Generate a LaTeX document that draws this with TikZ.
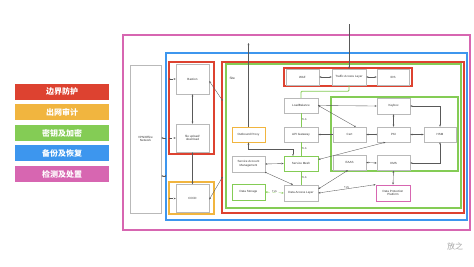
\documentclass[tikz,border=0pt]{standalone}
\usepackage{fontspec}
\setmainfont{Liberation Sans}
\newfontfamily\cjkfont{Noto Sans CJK SC}
\usetikzlibrary{arrows.meta}

\definecolor{bjred}{HTML}{DD4230}
\definecolor{bjorange}{HTML}{F1B53F}
\definecolor{bjgreen}{HTML}{84CC55}
\definecolor{bjblue}{HTML}{3D96EE}
\definecolor{bjpink}{HTML}{D766B1}

\tikzset{
	box/.style={draw=gray!55, line width=0.5pt, minimum width=33pt, minimum height=15pt,
		inner sep=0.5pt, align=center, font=\fontsize{3}{3.6}\selectfont, text=black!80},
	legend/.style={minimum width=94pt, minimum height=16pt, inner sep=0pt, text=white,
		font=\cjkfont\bfseries\fontsize{8}{9}\selectfont},
	frame/.style={line width=1.1pt},
	link/.style={draw=black!65, line width=0.35pt, -{Stealth[length=2.2pt,width=1.8pt]}},
	twoway/.style={link, {Stealth[length=2.2pt,width=1.8pt]}-{Stealth[length=2.2pt,width=1.8pt]}},
	dotlink/.style={link, {Circle[length=1.4pt]}-{Stealth[length=2.2pt,width=1.8pt]}},
	tlsline/.style={draw=bjgreen, line width=0.9pt},
	tlslabel/.style={font=\fontsize{2.6}{3}\selectfont, inner sep=0.3pt, text=black!80},
}

\begin{document}
\begin{tikzpicture}[x=1pt, y=-1pt]
	
	\useasboundingbox[fill=white] (0,0) rectangle (474,266);
	
	% 1. Legend
	\node[legend, fill=bjred]    (legborder) at (62,91.5) {边界防护};
	\node[legend, fill=bjorange] (legaudit)  at (62,112)  {出网审计};
	\node[legend, fill=bjgreen]  (legcrypto) at (62,133)  {密钥及加密};
	\node[legend, fill=bjblue]   (legbackup) at (62,153)  {备份及恢复};
	\node[legend, fill=bjpink]   (legdetect) at (62,174)  {检测及处置};
	
	% 2. Frames
	\draw[frame, bjpink]   (123,35) rectangle (470,230);
	\draw[frame, bjblue]   (166,53) rectangle (467,220);
	\draw[frame, bjred]    (169,62) rectangle (214,154);
	\draw[frame, bjorange] (169,182) rectangle (214,214);
	\draw[frame, bjred]    (222,62) rectangle (464,213);
	\draw[frame, bjgreen]  (226,64) rectangle (461,208);
	\draw[frame, bjred]    (284,68) rectangle (412,86);
	\draw[frame, bjgreen]  (331,97) rectangle (458,171);
	\node[tlslabel, anchor=west, font=\fontsize{3.2}{3.6}\selectfont] (sitelabel) at (229,78) {Site};
	
	% 3. Office side
	\node[box, minimum width=31pt, minimum height=148pt] (vpn) at (145.5,139) {VPN/Office\\Network};
	\node[box, minimum height=30pt] (bastion) at (192.5,79) {Bastion};
	\node[box, minimum height=28pt] (upload) at (192.5,138) {file upload/\\download};
	\node[box, minimum height=28pt] (cicd) at (192.5,198.5) {CI/CD};
	
	\coordinate (bastionport) at (169,79);
	\coordinate (siteport) at (222.5,100.5);
	\coordinate (blueport) at (166,176);
	\coordinate (cicdport) at (169,198.5);
	\coordinate (siteport2) at (222.5,177);
	
	\draw[dotlink, dashed] (bastionport) -- (bastion.west);
	\draw[dotlink] (siteport) -- ([yshift=-2pt]bastion.east);
	\draw[twoway] (bastion.south) -- (upload.north);
	\draw[twoway, dashed] (vpn.east |- upload.west) -- (upload.west);
	\draw[dotlink] (blueport) -- (vpn.east |- blueport);
	\draw[dotlink, dashed] (cicdport) -- (cicd.west);
	\draw[twoway] (upload.south) -- (cicd.north);
	\draw[dotlink] (siteport2) -- ([yshift=-1pt]cicd.east);
	
	% 4. Edge and service layer
	\node[box, minimum height=16pt] (waf) at (302.5,77) {WAF};
	\node[box, minimum width=34pt, minimum height=16pt] (tal) at (349,77) {Traffic Access Layer};
	\node[box, minimum width=32pt, minimum height=16pt] (ids) at (393,77) {IDS};
	\node[box, minimum width=34pt] (lb) at (301,105.5) {LoadBalance};
	\node[box, minimum width=34pt] (apigw) at (301,134.5) {API Gateway};
	\node[box, minimum width=34pt, draw=bjgreen, line width=0.8pt] (mesh) at (301,163.5) {Service Mesh};
	\node[box, minimum width=34pt, minimum height=16pt] (dal) at (301,193) {Data Access Layer};
	\node[box, draw=bjorange, line width=0.8pt] (outproxy) at (248.5,134.5) {Outbound Proxy};
	\node[box, minimum height=16pt] (sam) at (248.5,164) {Service Account\\Management};
	\node[box, minimum height=16pt, draw=bjgreen, line width=0.8pt] (storage) at (248.5,192) {Data Storage};
	
	\coordinate (inet) at (349,24);
	\coordinate (egress) at (248.5,43);
	
	\draw[twoway] (waf.east) -- (tal.west);
	\draw[twoway] (tal.east) -- (ids.west);
	\draw[link] (inet) -- (tal.north);
	\draw[link] (outproxy.north) -- (egress);
	\draw[tlsline, rounded corners=1pt] (tal.south) -- ++(0,6) -| (lb.north);
	\draw[tlsline] (lb.south) -- node[tlslabel, right] {TLS} (apigw.north);
	\draw[tlsline] (apigw.south) -- node[tlslabel, right] {TLS} (mesh.north);
	\draw[tlsline] (mesh.south) -- node[tlslabel, right] {TLS} (dal.north);
	\draw[dotlink] ([xshift=-8pt]mesh.north) -- ++(0,-6) -| (outproxy.south);
	\draw[twoway] (sam.east) -- (mesh.west);
	\draw[dotlink] (sam.south east) -- ([xshift=-8pt]dal.north);
	\draw[twoway, draw=bjgreen, dashed] (storage.east) -- node[tlslabel, above] {TLS} (dal.west);
	
	% 5. Key management
	\node[box] (cert) at (349.5,134.5) {Cert};
	\node[box] (eaas) at (349.5,162.5) {EAAS};
	\node[box, minimum height=16pt] (keybox) at (393.5,106) {Keybox};
	\node[box] (pki) at (393.5,134.5) {PKI};
	\node[box, minimum width=32pt] (hsm) at (440,134.5) {HSM};
	\node[box] (kms) at (393.5,163) {KMS};
	\node[box, minimum width=34pt, minimum height=16pt, draw=bjpink, line width=0.8pt] (dpp) at (393,193) {Data Protection\\Platform};
	
	\draw[dotlink] (lb.east) -- (keybox.west);
	\draw[dotlink] ([xshift=6pt]cert.north) -- (lb.east);
	\draw[link] (cert.west) -- (apigw.east);
	\draw[dotlink] (pki.west) -- (cert.east);
	\draw[twoway] (keybox.south) -- (pki.north);
	\draw[twoway] (keybox.east) -| (hsm.north);
	\draw[twoway] (pki.east) -- (hsm.west);
	\draw[twoway] (eaas.east) -- (kms.west);
	\draw[twoway] (kms.east) -| (hsm.south);
	\draw[twoway] (kms.south) -- (dpp.north);
	\draw[twoway] ([xshift=-8pt]pki.south) -- ([yshift=4pt]mesh.east);
	\draw[twoway] ([xshift=-1.5pt]eaas.south) -- ([yshift=4pt]dal.east);
	\draw[twoway] (dpp.north west) -- node[tlslabel, above, sloped] {TLS} (dal.east);
	
	% 6. Watermark
	\node[text=gray!70, font=\cjkfont\fontsize{8}{9}\selectfont] (mark) at (455,246) {放之};
	
\end{tikzpicture}
\end{document}
